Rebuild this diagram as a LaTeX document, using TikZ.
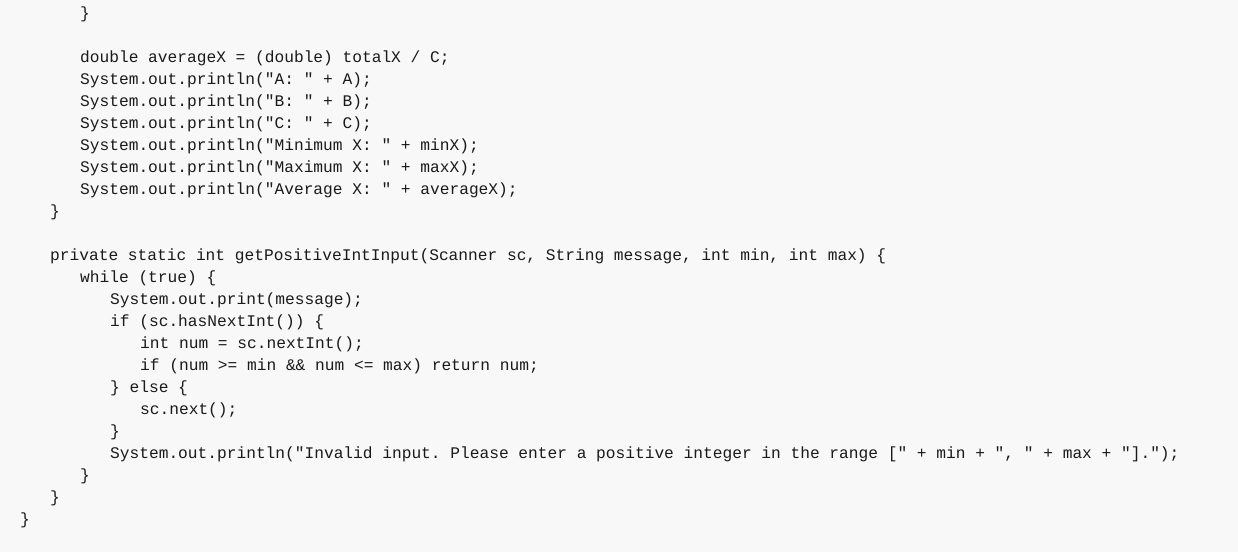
\documentclass[tikz,border=0pt]{standalone}
\usepackage{fontspec}
\setmonofont{Liberation Mono}
\definecolor{bg}{HTML}{F8F8F8}
\definecolor{code}{HTML}{1A1A1A}
\begin{document}
\begin{tikzpicture}[x=1pt,y=-1pt,
  codeline/.style={anchor=base west,inner sep=0pt,font=\fontsize{16.2}{20}\ttfamily,text=code}]
\fill[bg] (0,0) rectangle (1238,552);
\useasboundingbox (0,0) rectangle (1238,552);
\node[codeline] (l1) at (80,18) {\}};
\node[codeline] (l2) at (80,62) {double averageX = (double) totalX / C;};
\node[codeline] (l3) at (80,84) {System.out.println("A: " + A);};
\node[codeline] (l4) at (80,106) {System.out.println("B: " + B);};
\node[codeline] (l5) at (80,128) {System.out.println("C: " + C);};
\node[codeline] (l6) at (80,150) {System.out.println("Minimum X: " + minX);};
\node[codeline] (l7) at (80,172) {System.out.println("Maximum X: " + maxX);};
\node[codeline] (l8) at (80,194) {System.out.println("Average X: " + averageX);};
\node[codeline] (l9) at (50,216) {\}};
\node[codeline] (l10) at (50,260) {private static int getPositiveIntInput(Scanner sc, String message, int min, int max) \{};
\node[codeline] (l11) at (80,282) {while (true) \{};
\node[codeline] (l12) at (110,304) {System.out.print(message);};
\node[codeline] (l13) at (110,326) {if (sc.hasNextInt()) \{};
\node[codeline] (l14) at (140,348) {int num = sc.nextInt();};
\node[codeline] (l15) at (140,370) {if (num >= min \&\& num <= max) return num;};
\node[codeline] (l16) at (110,392) {\} else \{};
\node[codeline] (l17) at (140,414) {sc.next();};
\node[codeline] (l18) at (110,436) {\}};
\node[codeline] (l19) at (110,458) {System.out.println("Invalid input. Please enter a positive integer in the range [" + min + ", " + max + "].");};
\node[codeline] (l20) at (80,480) {\}};
\node[codeline] (l21) at (50,502) {\}};
\node[codeline] (l22) at (20,524) {\}};
\end{tikzpicture}
\end{document}
